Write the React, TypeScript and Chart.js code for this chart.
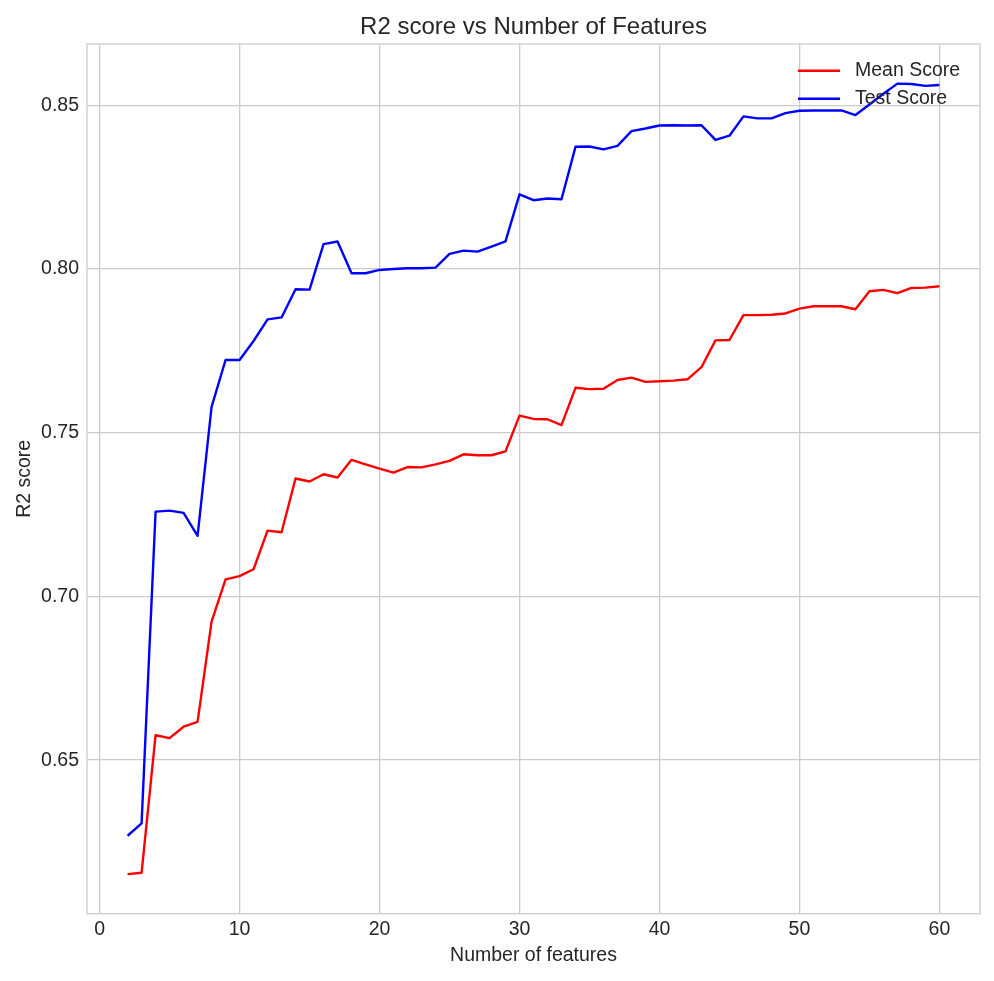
import React, { useEffect, useRef } from 'react';
import { Chart, registerables } from 'chart.js';

Chart.register(...registerables);

// number of features kept at each step
const features = [
  2, 3, 4, 5, 6, 7, 8, 9, 10, 11, 12, 13, 14, 15, 16, 17, 18, 19, 20, 21, 22, 23, 24, 25, 26, 27,
  28, 29, 30, 31, 32, 33, 34, 35, 36, 37, 38, 39, 40, 41, 42, 43, 44, 45, 46, 47, 48, 49, 50, 51,
  52, 53, 54, 55, 56, 57, 58, 59, 60,
];

const meanScore = [
  0.6152, 0.6156, 0.6576, 0.6567, 0.6602, 0.6617, 0.6923, 0.7052, 0.7062, 0.7083, 0.7201, 0.7196,
  0.736, 0.7351, 0.7373, 0.7363, 0.7417, 0.7403, 0.739, 0.7378, 0.7395, 0.7394, 0.7403, 0.7414,
  0.7434, 0.7431, 0.7431, 0.7443, 0.7552, 0.7542, 0.7541, 0.7523, 0.7637, 0.7633, 0.7634, 0.7661,
  0.7668, 0.7655, 0.7657, 0.7659, 0.7663, 0.77, 0.7782, 0.7783, 0.7859, 0.7859, 0.786, 0.7864,
  0.7879, 0.7886, 0.7886, 0.7886, 0.7877, 0.7932, 0.7936, 0.7926, 0.7942, 0.7943, 0.7947,
];

const testScore = [
  0.6269, 0.6307, 0.7259, 0.7262, 0.7255, 0.7185, 0.7579, 0.7722, 0.7722, 0.778, 0.7846, 0.7852,
  0.7938, 0.7937, 0.8076, 0.8084, 0.7987, 0.7987, 0.7997, 0.8, 0.8002, 0.8002, 0.8004, 0.8046,
  0.8056, 0.8053, 0.8068, 0.8084, 0.8228, 0.821, 0.8215, 0.8213, 0.8373, 0.8374, 0.8365, 0.8376,
  0.8421, 0.8429, 0.8438, 0.8439, 0.8438, 0.8439, 0.8394, 0.8407, 0.8466, 0.846, 0.846, 0.8476,
  0.8483, 0.8484, 0.8484, 0.8484, 0.847, 0.8502, 0.8535, 0.8566, 0.8565, 0.8559, 0.8562,
];

const xTicks = [0, 10, 20, 30, 40, 50, 60];
const yTicks = [0.65, 0.7, 0.75, 0.8, 0.85];

const TITLE = 'R2 score vs Number of Features';
const FONT = "'Liberation Sans', Arial, sans-serif";
const TEXT = '#262626';
const GRID = '#cccccc';

const App: React.FC = () => {
  const canvasRef = useRef<HTMLCanvasElement | null>(null);
  const chartInstance = useRef<Chart | null>(null);

  useEffect(() => {
    const canvas = canvasRef.current;
    if (!canvas) return;
    const ctx = canvas.getContext('2d');
    if (!ctx) return;

    if (chartInstance.current) {
      chartInstance.current.destroy();
    }

    chartInstance.current = new Chart(ctx, {
      type: 'line',
      data: {
        datasets: [
          {
            label: 'Mean Score',
            data: features.map((x, i) => ({ x, y: meanScore[i] })),
            borderColor: '#ff0000',
            borderWidth: 2.4,
            borderJoinStyle: 'round',
            pointRadius: 0,
            tension: 0,
            fill: false,
          },
          {
            label: 'Test Score',
            data: features.map((x, i) => ({ x, y: testScore[i] })),
            borderColor: '#0000ff',
            borderWidth: 2.4,
            borderJoinStyle: 'round',
            pointRadius: 0,
            tension: 0,
            fill: false,
          },
        ],
      },
      options: {
        animation: false,
        responsive: true,
        maintainAspectRatio: false,
        layout: { padding: { left: 0, right: 14, top: 44, bottom: 0 } },
        plugins: {
          legend: { display: false },
          tooltip: { enabled: false },
          title: { display: false },
        },
        scales: {
          x: {
            type: 'linear',
            min: -0.9,
            max: 62.9,
            afterBuildTicks: (scale: any) => {
              scale.ticks = xTicks.map((v) => ({ value: v }));
            },
            afterFit: (scale: any) => {
              scale.height = 67.3;
            },
            grid: { color: GRID, lineWidth: 1.3, drawTicks: false },
            border: { display: false },
            ticks: {
              color: TEXT,
              font: { family: FONT, size: 19.5 },
              padding: 4.6,
              maxRotation: 0,
              autoSkip: false,
              callback: (v: any) => String(v),
            },
            title: {
              display: true,
              text: 'Number of features',
              color: TEXT,
              font: { family: FONT, size: 19.5 },
              padding: { top: 0, bottom: 13.4 },
            },
          },
          y: {
            type: 'linear',
            min: 0.6031,
            max: 0.8687,
            afterBuildTicks: (scale: any) => {
              scale.ticks = yTicks.map((v) => ({ value: v }));
            },
            afterFit: (scale: any) => {
              scale.width = 87;
            },
            grid: { color: GRID, lineWidth: 1.3, drawTicks: false },
            border: { display: false },
            ticks: {
              color: TEXT,
              font: { family: FONT, size: 19.5 },
              padding: 8,
              autoSkip: false,
              callback: (v: any) => Number(v).toFixed(2),
            },
            title: {
              display: true,
              text: 'R2 score',
              color: TEXT,
              font: { family: FONT, size: 19.5 },
              padding: { top: 12.5, bottom: 0 },
            },
          },
        },
      },
      plugins: [
        {
          id: 'frame',
          beforeDatasetsDraw(chart) {
            const { ctx, chartArea } = chart;
            ctx.save();
            ctx.strokeStyle = GRID;
            ctx.lineWidth = 1.3;
            ctx.strokeRect(
              chartArea.left,
              chartArea.top,
              chartArea.right - chartArea.left,
              chartArea.bottom - chartArea.top,
            );
            ctx.restore();
          },
        },
        {
          id: 'axesTitle',
          afterDraw(chart) {
            const { ctx, chartArea } = chart;
            ctx.save();
            ctx.font = `24px ${FONT}`;
            ctx.fillStyle = TEXT;
            ctx.textAlign = 'center';
            ctx.textBaseline = 'alphabetic';
            ctx.fillText(TITLE, (chartArea.left + chartArea.right) / 2, chartArea.top - 10.5);
            ctx.restore();
          },
        },
        {
          id: 'cornerLegend',
          afterDatasetsDraw(chart) {
            const { ctx, chartArea } = chart;
            ctx.save();
            ctx.font = `19.5px ${FONT}`;
            ctx.textBaseline = 'middle';
            ctx.textAlign = 'left';
            chart.data.datasets.forEach((ds: any, i: number) => {
              const y = chartArea.top + 26.2 + i * 28;
              const x0 = chartArea.right - 182;
              ctx.strokeStyle = ds.borderColor;
              ctx.lineWidth = 2.4;
              ctx.beginPath();
              ctx.moveTo(x0, y + 0.6);
              ctx.lineTo(x0 + 42, y + 0.6);
              ctx.stroke();
              ctx.fillStyle = TEXT;
              ctx.fillText(ds.label, x0 + 57, y);
            });
            ctx.restore();
          },
        },
      ],
    });

    return () => {
      if (chartInstance.current) {
        chartInstance.current.destroy();
        chartInstance.current = null;
      }
    };
  }, []);

  return (
    <div
      style={{
        position: 'absolute',
        left: 0,
        top: 0,
        width: '994px',
        height: '981px',
        background: '#ffffff',
      }}
    >
      <canvas ref={canvasRef}></canvas>
    </div>
  );
};

export default App;
